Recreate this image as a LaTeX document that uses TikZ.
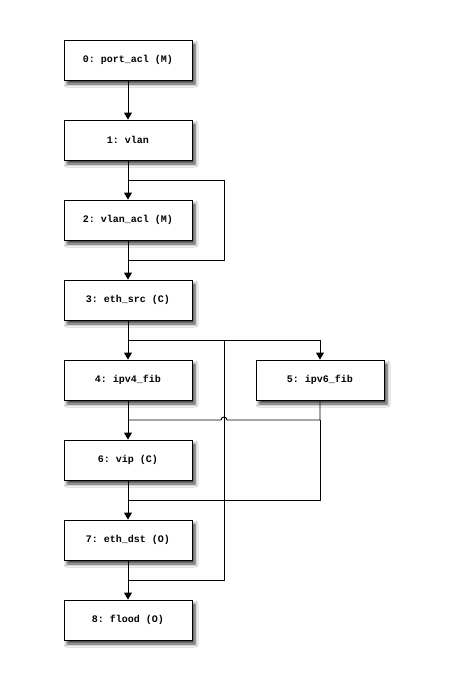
\documentclass[tikz,border=0pt]{standalone}
\usepackage{fontspec}
\setmonofont{Liberation Mono}
\usetikzlibrary{arrows.meta,shadows.blur}
\begin{document}
\begin{tikzpicture}[x=1pt,y=1pt,
  box/.style={draw=black,line width=0.9pt,fill=white,minimum width=128pt,minimum height=40pt,inner sep=0pt,
    font=\ttfamily\bfseries\fontsize{10}{12}\selectfont,
    blur shadow={shadow xshift=3pt,shadow yshift=-4pt,shadow blur steps=6,shadow blur radius=3pt,shadow opacity=75}},
  wire/.style={line width=0.9pt,draw=black},
  arr/.style={wire,-{Triangle[width=8pt,length=7pt]}}]
\useasboundingbox (0,0) rectangle (448,-680);
\fill[white] (0,0) rectangle (448,-680);
\node[box] (n0) at (128,-60) {0: port\_acl (M)};
\node[box] (n1) at (128,-140) {1: vlan};
\node[box] (n2) at (128,-220) {2: vlan\_acl (M)};
\node[box] (n3) at (128,-300) {3: eth\_src (C)};
\node[box] (n4) at (128,-380) {4: ipv4\_fib};
\node[box] (n5) at (320,-380) {5: ipv6\_fib};
\node[box] (n6) at (128,-460) {6: vip (C)};
\node[box] (n7) at (128,-540) {7: eth\_dst (O)};
\node[box] (n8) at (128,-620) {8: flood (O)};
\coordinate (j1) at (128,-180);
\coordinate (j1r) at (224,-180);
\coordinate (j2r) at (224,-260);
\coordinate (j2) at (128,-260);
\coordinate (j3) at (128,-340);
\coordinate (j3m) at (224,-340);
\coordinate (j3r) at (320,-340);
\coordinate (j4) at (128,-420);
\coordinate (j5) at (320,-420);
\coordinate (h1) at (227,-420);
\coordinate (j6) at (128,-500);
\coordinate (j6r) at (320,-500);
\coordinate (j8m) at (224,-580);
\coordinate (j8) at (128,-580);
\draw[arr] (n0) -- (n1);
\draw[arr] (n1) -- (n2);
\draw[wire] (j1) -- (j1r) -- (j2r) -- (j2);
\draw[arr] (n2) -- (n3);
\draw[wire] (n3.south) -- (j3) -- (j3r);
\draw[arr] (j3) -- (n4);
\draw[arr] (j3r) -- (n5);
\draw[wire] (j3m) -- (j8m) -- (j8);
\draw[wire] (n4.south) -- (j4);
\draw[wire] (n5.south) -- (j5) -- (h1) arc[start angle=0,end angle=180,radius=3pt] -- (j4);
\draw[arr] (j4) -- (n6);
\draw[wire] (n6.south) -- (j6);
\draw[wire] (j5) -- (j6r) -- (j6);
\draw[arr] (j6) -- (n7);
\draw[arr] (n7) -- (n8);
\end{tikzpicture}
\end{document}
